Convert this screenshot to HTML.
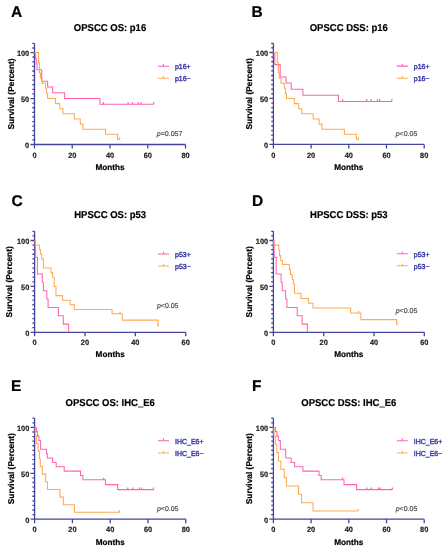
<!DOCTYPE html>
<html><head><meta charset="utf-8"><style>
html,body{margin:0;padding:0;background:#fff;}
svg{display:block;will-change:transform;}
text{font-family:"Liberation Sans",sans-serif;text-rendering:geometricPrecision;}
.sk{stroke-width:0.22px;}
</style></head><body>
<svg width="447" height="550" viewBox="0 0 447 550">
<rect width="447" height="550" fill="#fff"/>
<text x="11.1" y="16.8" font-size="15.5" font-weight="bold" fill="#000" stroke="#000" stroke-width="0.2">A</text>
<text transform="translate(110 30.5) scale(0.95 1)" font-size="10" font-weight="bold" text-anchor="middle" fill="#000" stroke="#000" stroke-width="0.2">OPSCC OS: p16</text>
<path d="M34.5 43.41V148.5M30.5 144.5H185.5M30.5 144.5H34.5M32.3 139.91H34.5M32.3 135.31H34.5M32.3 130.72H34.5M32.3 126.12H34.5M32.3 121.53H34.5M32.3 116.93H34.5M32.3 112.34H34.5M32.3 107.74H34.5M32.3 103.14H34.5M30.5 98.55H34.5M32.3 93.95H34.5M32.3 89.36H34.5M32.3 84.77H34.5M32.3 80.17H34.5M32.3 75.58H34.5M32.3 70.98H34.5M32.3 66.38H34.5M32.3 61.79H34.5M32.3 57.19H34.5M30.5 52.6H34.5M32.3 48H34.5M32.3 43.41H34.5M34.5 144.5V148.5M72.25 144.5V148.5M110 144.5V148.5M147.75 144.5V148.5M185.5 144.5V148.5" fill="none" stroke="#44449e" stroke-width="1.3"/>
<text transform="translate(29.2 147.9) scale(0.96 1)" font-size="7.7" font-weight="bold" text-anchor="end" fill="#222222" stroke="#222222" stroke-width="0.2">0</text>
<text transform="translate(29.2 101.95) scale(0.96 1)" font-size="7.7" font-weight="bold" text-anchor="end" fill="#222222" stroke="#222222" stroke-width="0.2">50</text>
<text transform="translate(29.2 56) scale(0.96 1)" font-size="7.7" font-weight="bold" text-anchor="end" fill="#222222" stroke="#222222" stroke-width="0.2">100</text>
<text transform="translate(34.5 157.6) scale(0.96 1)" font-size="7.7" font-weight="bold" text-anchor="middle" fill="#222222" stroke="#222222" stroke-width="0.2">0</text>
<text transform="translate(72.25 157.6) scale(0.96 1)" font-size="7.7" font-weight="bold" text-anchor="middle" fill="#222222" stroke="#222222" stroke-width="0.2">20</text>
<text transform="translate(110 157.6) scale(0.96 1)" font-size="7.7" font-weight="bold" text-anchor="middle" fill="#222222" stroke="#222222" stroke-width="0.2">40</text>
<text transform="translate(147.75 157.6) scale(0.96 1)" font-size="7.7" font-weight="bold" text-anchor="middle" fill="#222222" stroke="#222222" stroke-width="0.2">60</text>
<text transform="translate(185.5 157.6) scale(0.96 1)" font-size="7.7" font-weight="bold" text-anchor="middle" fill="#222222" stroke="#222222" stroke-width="0.2">80</text>
<text x="110" y="169.7" font-size="8.2" font-weight="bold" text-anchor="middle" fill="#000" stroke="#000" stroke-width="0.2">Months</text>
<text transform="translate(13.5 93.95) rotate(-90)" font-size="8.4" font-weight="bold" text-anchor="middle" fill="#000" stroke="#000" stroke-width="0.2">Survival (Percent)</text>
<path d="M157.9 66.3H168.9M163.4 66.3V64" stroke="#ff63b1" stroke-width="1.1"/>
<text transform="translate(174.9 69.1) scale(0.97 1)" font-size="7.2" fill="#3a3aa6" stroke="#3a3aa6" stroke-width="0.4">p16+</text>
<path d="M157.9 78.3H168.9M163.4 78.3V76" stroke="#ffab52" stroke-width="1.1"/>
<text transform="translate(174.9 81.1) scale(0.97 1)" font-size="7.2" fill="#3a3aa6" stroke="#3a3aa6" stroke-width="0.4">p16−</text>
<text x="156.8" y="135.6" font-size="7" fill="#505050" stroke="#505050" stroke-width="0.2"><tspan font-style="italic">p</tspan>=0.057</text>
<path d="M34.5 52.6H35.5V58.25H36.3V64H37.1V69.75H41.7V81.25H47.6V87H52.6V92.75H64.6V98.5H99.9V104.25H153.6" fill="none" stroke="#ff63b1" stroke-width="1.05"/><path d="M103.5 104.25V102.15" stroke="#ff63b1" stroke-width="1.3"/><path d="M128.1 104.25V102.15" stroke="#ff63b1" stroke-width="1.3"/><path d="M132.5 104.25V102.15" stroke="#ff63b1" stroke-width="1.3"/><path d="M138.3 104.25V102.15" stroke="#ff63b1" stroke-width="1.3"/><path d="M141 104.25V102.15" stroke="#ff63b1" stroke-width="1.3"/><path d="M153.6 104.25V102.15" stroke="#ff63b1" stroke-width="1.3"/>
<path d="M34.5 52.6H38.5V62.7H39.5V72.9H40.5V78.1H42.1V83.2H45.4V88.3H46.5V93.4H47.6V98.5H55.5V103.6H59.8V108.7H62.9V113.8H74.3V118.9H80.3V124.1H83V129.2H105.5V134.3H117.6V139.4H119.6" fill="none" stroke="#ffab52" stroke-width="1.05"/><path d="M119.6 139.4V137.3" stroke="#ffab52" stroke-width="1.3"/>
<text x="251.4" y="16.8" font-size="15.5" font-weight="bold" fill="#000" stroke="#000" stroke-width="0.2">B</text>
<text transform="translate(348.8 30.6) scale(0.95 1)" font-size="10" font-weight="bold" text-anchor="middle" fill="#000" stroke="#000" stroke-width="0.2">OPSCC DSS: p16</text>
<path d="M273.4 43.31V148.4M269.4 144.4H424.2M269.4 144.4H273.4M271.2 139.81H273.4M271.2 135.21H273.4M271.2 130.62H273.4M271.2 126.02H273.4M271.2 121.43H273.4M271.2 116.83H273.4M271.2 112.24H273.4M271.2 107.64H273.4M271.2 103.05H273.4M269.4 98.45H273.4M271.2 93.86H273.4M271.2 89.26H273.4M271.2 84.67H273.4M271.2 80.07H273.4M271.2 75.48H273.4M271.2 70.88H273.4M271.2 66.28H273.4M271.2 61.69H273.4M271.2 57.09H273.4M269.4 52.5H273.4M271.2 47.91H273.4M271.2 43.31H273.4M273.4 144.4V148.4M311.1 144.4V148.4M348.8 144.4V148.4M386.5 144.4V148.4M424.2 144.4V148.4" fill="none" stroke="#44449e" stroke-width="1.3"/>
<text transform="translate(268.1 147.8) scale(0.96 1)" font-size="7.7" font-weight="bold" text-anchor="end" fill="#222222" stroke="#222222" stroke-width="0.2">0</text>
<text transform="translate(268.1 101.85) scale(0.96 1)" font-size="7.7" font-weight="bold" text-anchor="end" fill="#222222" stroke="#222222" stroke-width="0.2">50</text>
<text transform="translate(268.1 55.9) scale(0.96 1)" font-size="7.7" font-weight="bold" text-anchor="end" fill="#222222" stroke="#222222" stroke-width="0.2">100</text>
<text transform="translate(273.4 157.5) scale(0.96 1)" font-size="7.7" font-weight="bold" text-anchor="middle" fill="#222222" stroke="#222222" stroke-width="0.2">0</text>
<text transform="translate(311.1 157.5) scale(0.96 1)" font-size="7.7" font-weight="bold" text-anchor="middle" fill="#222222" stroke="#222222" stroke-width="0.2">20</text>
<text transform="translate(348.8 157.5) scale(0.96 1)" font-size="7.7" font-weight="bold" text-anchor="middle" fill="#222222" stroke="#222222" stroke-width="0.2">40</text>
<text transform="translate(386.5 157.5) scale(0.96 1)" font-size="7.7" font-weight="bold" text-anchor="middle" fill="#222222" stroke="#222222" stroke-width="0.2">60</text>
<text transform="translate(424.2 157.5) scale(0.96 1)" font-size="7.7" font-weight="bold" text-anchor="middle" fill="#222222" stroke="#222222" stroke-width="0.2">80</text>
<text x="348.8" y="169.7" font-size="8.2" font-weight="bold" text-anchor="middle" fill="#000" stroke="#000" stroke-width="0.2">Months</text>
<text transform="translate(251.5 93.86) rotate(-90)" font-size="8.4" font-weight="bold" text-anchor="middle" fill="#000" stroke="#000" stroke-width="0.2">Survival (Percent)</text>
<path d="M396.8 66.1H407.8M402.3 66.1V63.8" stroke="#ff63b1" stroke-width="1.1"/>
<text transform="translate(413.8 68.9) scale(0.97 1)" font-size="7.2" fill="#3a3aa6" stroke="#3a3aa6" stroke-width="0.4">p16+</text>
<path d="M396.8 78.2H407.8M402.3 78.2V75.9" stroke="#ffab52" stroke-width="1.1"/>
<text transform="translate(413.8 81) scale(0.97 1)" font-size="7.2" fill="#3a3aa6" stroke="#3a3aa6" stroke-width="0.4">p16−</text>
<text x="395.7" y="135.7" font-size="7" fill="#505050" stroke="#505050" stroke-width="0.2"><tspan font-style="italic">p</tspan>&lt;0.05</text>
<path d="M273.4 52.5H274.9V58.5H274.9V64.6H280.2V70.7H280.2V77H286V83H291.2V89.2H302.9V95.2H338.5V101.4H391.8" fill="none" stroke="#ff63b1" stroke-width="1.05"/><path d="M342.6 101.4V99.3" stroke="#ff63b1" stroke-width="1.3"/><path d="M366.7 101.4V99.3" stroke="#ff63b1" stroke-width="1.3"/><path d="M371.2 101.4V99.3" stroke="#ff63b1" stroke-width="1.3"/><path d="M377.4 101.4V99.3" stroke="#ff63b1" stroke-width="1.3"/><path d="M379.7 101.4V99.3" stroke="#ff63b1" stroke-width="1.3"/><path d="M391.8 101.4V99.3" stroke="#ff63b1" stroke-width="1.3"/>
<path d="M273.4 52.5H277.4V62.7H278.4V72.9H279.4V78.1H281V83.2H284.3V88.3H285.4V93.4H286.5V98.5H294.4V103.6H298.7V108.7H301.8V113.8H313.2V118.9H319.2V124.1H321.9V129.2H344.4V134.3H356.5V139.4H358.5" fill="none" stroke="#ffab52" stroke-width="1.05"/><path d="M358.5 139.4V137.3" stroke="#ffab52" stroke-width="1.3"/>
<text x="11.4" y="205.5" font-size="15.5" font-weight="bold" fill="#000" stroke="#000" stroke-width="0.2">C</text>
<text transform="translate(110.15 218.3) scale(0.95 1)" font-size="10" font-weight="bold" text-anchor="middle" fill="#000" stroke="#000" stroke-width="0.2">HPSCC OS: p53</text>
<path d="M34.6 231.32V336.3M30.6 332.3H185.7M30.6 332.3H34.6M32.4 327.71H34.6M32.4 323.12H34.6M32.4 318.53H34.6M32.4 313.94H34.6M32.4 309.35H34.6M32.4 304.76H34.6M32.4 300.17H34.6M32.4 295.58H34.6M32.4 290.99H34.6M30.6 286.4H34.6M32.4 281.81H34.6M32.4 277.22H34.6M32.4 272.63H34.6M32.4 268.04H34.6M32.4 263.45H34.6M32.4 258.86H34.6M32.4 254.27H34.6M32.4 249.68H34.6M32.4 245.09H34.6M30.6 240.5H34.6M32.4 235.91H34.6M32.4 231.32H34.6M34.6 332.3V336.3M84.97 332.3V336.3M135.33 332.3V336.3M185.7 332.3V336.3" fill="none" stroke="#44449e" stroke-width="1.3"/>
<text transform="translate(29.3 335.7) scale(0.96 1)" font-size="7.7" font-weight="bold" text-anchor="end" fill="#222222" stroke="#222222" stroke-width="0.2">0</text>
<text transform="translate(29.3 289.8) scale(0.96 1)" font-size="7.7" font-weight="bold" text-anchor="end" fill="#222222" stroke="#222222" stroke-width="0.2">50</text>
<text transform="translate(29.3 243.9) scale(0.96 1)" font-size="7.7" font-weight="bold" text-anchor="end" fill="#222222" stroke="#222222" stroke-width="0.2">100</text>
<text transform="translate(34.6 345.4) scale(0.96 1)" font-size="7.7" font-weight="bold" text-anchor="middle" fill="#222222" stroke="#222222" stroke-width="0.2">0</text>
<text transform="translate(84.97 345.4) scale(0.96 1)" font-size="7.7" font-weight="bold" text-anchor="middle" fill="#222222" stroke="#222222" stroke-width="0.2">20</text>
<text transform="translate(135.33 345.4) scale(0.96 1)" font-size="7.7" font-weight="bold" text-anchor="middle" fill="#222222" stroke="#222222" stroke-width="0.2">40</text>
<text transform="translate(185.7 345.4) scale(0.96 1)" font-size="7.7" font-weight="bold" text-anchor="middle" fill="#222222" stroke="#222222" stroke-width="0.2">60</text>
<text x="110.15" y="356.9" font-size="8.2" font-weight="bold" text-anchor="middle" fill="#000" stroke="#000" stroke-width="0.2">Months</text>
<text transform="translate(12.3 281.81) rotate(-90)" font-size="8.4" font-weight="bold" text-anchor="middle" fill="#000" stroke="#000" stroke-width="0.2">Survival (Percent)</text>
<path d="M158 254H169M163.5 254V251.7" stroke="#ff63b1" stroke-width="1.1"/>
<text transform="translate(175 256.8) scale(0.97 1)" font-size="7.2" fill="#3a3aa6" stroke="#3a3aa6" stroke-width="0.4">p53+</text>
<path d="M158 266H169M163.5 266V263.7" stroke="#ffab52" stroke-width="1.1"/>
<text transform="translate(175 268.8) scale(0.97 1)" font-size="7.2" fill="#3a3aa6" stroke="#3a3aa6" stroke-width="0.4">p53−</text>
<text x="156.9" y="308.4" font-size="7" fill="#505050" stroke="#505050" stroke-width="0.2"><tspan font-style="italic">p</tspan>&lt;0.05</text>
<path d="M34.6 240.5H35.3V257.2H37.4V273.9H42.3V282.3H43.4V290.7H46.8V299H48.1V307.4H58.4V315.7H63.3V324.1H68.6V332.3H68.6" fill="none" stroke="#ff63b1" stroke-width="1.05"/>
<path d="M34.6 240.5H35.3V245H39.5V249.6H40.6V254.2H41.7V258.8H43.4V268H51V272.6H52.6V277.2H54.2V286.4H56V295.6H62.5V300.2H70.2V304.8H74.3V309.4H112V313.8H122.2V320.1H158.1V326.3H158.3" fill="none" stroke="#ffab52" stroke-width="1.05"/><path d="M120.1 313.8V311.7" stroke="#ffab52" stroke-width="1.3"/><path d="M158.3 326.3V324.2" stroke="#ffab52" stroke-width="1.3"/>
<text x="252.1" y="205.5" font-size="15.5" font-weight="bold" fill="#000" stroke="#000" stroke-width="0.2">D</text>
<text transform="translate(348.85 218.3) scale(0.95 1)" font-size="10" font-weight="bold" text-anchor="middle" fill="#000" stroke="#000" stroke-width="0.2">HPSCC DSS: p53</text>
<path d="M273.4 231.32V336.3M269.4 332.3H424.3M269.4 332.3H273.4M271.2 327.71H273.4M271.2 323.12H273.4M271.2 318.53H273.4M271.2 313.94H273.4M271.2 309.35H273.4M271.2 304.76H273.4M271.2 300.17H273.4M271.2 295.58H273.4M271.2 290.99H273.4M269.4 286.4H273.4M271.2 281.81H273.4M271.2 277.22H273.4M271.2 272.63H273.4M271.2 268.04H273.4M271.2 263.45H273.4M271.2 258.86H273.4M271.2 254.27H273.4M271.2 249.68H273.4M271.2 245.09H273.4M269.4 240.5H273.4M271.2 235.91H273.4M271.2 231.32H273.4M273.4 332.3V336.3M323.7 332.3V336.3M374 332.3V336.3M424.3 332.3V336.3" fill="none" stroke="#44449e" stroke-width="1.3"/>
<text transform="translate(268.1 335.7) scale(0.96 1)" font-size="7.7" font-weight="bold" text-anchor="end" fill="#222222" stroke="#222222" stroke-width="0.2">0</text>
<text transform="translate(268.1 289.8) scale(0.96 1)" font-size="7.7" font-weight="bold" text-anchor="end" fill="#222222" stroke="#222222" stroke-width="0.2">50</text>
<text transform="translate(268.1 243.9) scale(0.96 1)" font-size="7.7" font-weight="bold" text-anchor="end" fill="#222222" stroke="#222222" stroke-width="0.2">100</text>
<text transform="translate(273.4 345.4) scale(0.96 1)" font-size="7.7" font-weight="bold" text-anchor="middle" fill="#222222" stroke="#222222" stroke-width="0.2">0</text>
<text transform="translate(323.7 345.4) scale(0.96 1)" font-size="7.7" font-weight="bold" text-anchor="middle" fill="#222222" stroke="#222222" stroke-width="0.2">20</text>
<text transform="translate(374 345.4) scale(0.96 1)" font-size="7.7" font-weight="bold" text-anchor="middle" fill="#222222" stroke="#222222" stroke-width="0.2">40</text>
<text transform="translate(424.3 345.4) scale(0.96 1)" font-size="7.7" font-weight="bold" text-anchor="middle" fill="#222222" stroke="#222222" stroke-width="0.2">60</text>
<text x="348.85" y="356.9" font-size="8.2" font-weight="bold" text-anchor="middle" fill="#000" stroke="#000" stroke-width="0.2">Months</text>
<text transform="translate(251.5 281.81) rotate(-90)" font-size="8.4" font-weight="bold" text-anchor="middle" fill="#000" stroke="#000" stroke-width="0.2">Survival (Percent)</text>
<path d="M396.8 253.8H407.8M402.3 253.8V251.5" stroke="#ff63b1" stroke-width="1.1"/>
<text transform="translate(413.8 256.6) scale(0.97 1)" font-size="7.2" fill="#3a3aa6" stroke="#3a3aa6" stroke-width="0.4">p53+</text>
<path d="M396.8 265.7H407.8M402.3 265.7V263.4" stroke="#ffab52" stroke-width="1.1"/>
<text transform="translate(413.8 268.5) scale(0.97 1)" font-size="7.2" fill="#3a3aa6" stroke="#3a3aa6" stroke-width="0.4">p53−</text>
<text x="395.7" y="312.9" font-size="7" fill="#505050" stroke="#505050" stroke-width="0.2"><tspan font-style="italic">p</tspan>&lt;0.05</text>
<path d="M273.4 240.5H274.1V257.2H276.2V273.9H281.1V282.3H282.2V290.7H285.6V299H286.9V307.4H297.2V315.7H302.1V324.1H307.4V332.3H307.4" fill="none" stroke="#ff63b1" stroke-width="1.05"/>
<path d="M273.4 240.5H274V245.1H278.8V250H279.6V255.4H280.7V260.4H282.4V264.4H289.4V269.6H290.5V274.5H292.2V279.4H293.3V283.8H294.5V293.3H300.9V298.5H308.5V303.2H313V307.9H350.6V312.9H360.9V319.6H396.7V324.7H396.9" fill="none" stroke="#ffab52" stroke-width="1.05"/><path d="M358.5 312.9V310.8" stroke="#ffab52" stroke-width="1.3"/><path d="M396.9 324.7V322.6" stroke="#ffab52" stroke-width="1.3"/>
<text x="11" y="390.6" font-size="15.5" font-weight="bold" fill="#000" stroke="#000" stroke-width="0.2">E</text>
<text transform="translate(110.2 405.6) scale(0.95 1)" font-size="10" font-weight="bold" text-anchor="middle" fill="#000" stroke="#000" stroke-width="0.2">OPSCC OS: IHC_E6</text>
<path d="M34.6 418.22V523.2M30.6 519.2H185.8M30.6 519.2H34.6M32.4 514.61H34.6M32.4 510.02H34.6M32.4 505.43H34.6M32.4 500.84H34.6M32.4 496.25H34.6M32.4 491.66H34.6M32.4 487.07H34.6M32.4 482.48H34.6M32.4 477.89H34.6M30.6 473.3H34.6M32.4 468.71H34.6M32.4 464.12H34.6M32.4 459.53H34.6M32.4 454.94H34.6M32.4 450.35H34.6M32.4 445.76H34.6M32.4 441.17H34.6M32.4 436.58H34.6M32.4 431.99H34.6M30.6 427.4H34.6M32.4 422.81H34.6M32.4 418.22H34.6M34.6 519.2V523.2M72.4 519.2V523.2M110.2 519.2V523.2M148 519.2V523.2M185.8 519.2V523.2" fill="none" stroke="#44449e" stroke-width="1.3"/>
<text transform="translate(29.3 522.6) scale(0.96 1)" font-size="7.7" font-weight="bold" text-anchor="end" fill="#222222" stroke="#222222" stroke-width="0.2">0</text>
<text transform="translate(29.3 476.7) scale(0.96 1)" font-size="7.7" font-weight="bold" text-anchor="end" fill="#222222" stroke="#222222" stroke-width="0.2">50</text>
<text transform="translate(29.3 430.8) scale(0.96 1)" font-size="7.7" font-weight="bold" text-anchor="end" fill="#222222" stroke="#222222" stroke-width="0.2">100</text>
<text transform="translate(34.6 532.3) scale(0.96 1)" font-size="7.7" font-weight="bold" text-anchor="middle" fill="#222222" stroke="#222222" stroke-width="0.2">0</text>
<text transform="translate(72.4 532.3) scale(0.96 1)" font-size="7.7" font-weight="bold" text-anchor="middle" fill="#222222" stroke="#222222" stroke-width="0.2">20</text>
<text transform="translate(110.2 532.3) scale(0.96 1)" font-size="7.7" font-weight="bold" text-anchor="middle" fill="#222222" stroke="#222222" stroke-width="0.2">40</text>
<text transform="translate(148 532.3) scale(0.96 1)" font-size="7.7" font-weight="bold" text-anchor="middle" fill="#222222" stroke="#222222" stroke-width="0.2">60</text>
<text transform="translate(185.8 532.3) scale(0.96 1)" font-size="7.7" font-weight="bold" text-anchor="middle" fill="#222222" stroke="#222222" stroke-width="0.2">80</text>
<text x="110.2" y="544.5" font-size="8.2" font-weight="bold" text-anchor="middle" fill="#000" stroke="#000" stroke-width="0.2">Months</text>
<text transform="translate(13.5 468.71) rotate(-90)" font-size="8.4" font-weight="bold" text-anchor="middle" fill="#000" stroke="#000" stroke-width="0.2">Survival (Percent)</text>
<path d="M158 440.7H169M163.5 440.7V438.4" stroke="#ff63b1" stroke-width="1.1"/>
<text transform="translate(175 443.5) scale(0.97 1)" font-size="7.2" fill="#3a3aa6" stroke="#3a3aa6" stroke-width="0.4">IHC_E6+</text>
<path d="M158 453H169M163.5 453V450.7" stroke="#ffab52" stroke-width="1.1"/>
<text transform="translate(175 455.8) scale(0.97 1)" font-size="7.2" fill="#3a3aa6" stroke="#3a3aa6" stroke-width="0.4">IHC_E6−</text>
<text x="156.9" y="510.9" font-size="7" fill="#505050" stroke="#505050" stroke-width="0.2"><tspan font-style="italic">p</tspan>&lt;0.05</text>
<path d="M34.6 427.4H36.5V431.6H37.5V436.1H38.9V440.4H40.6V449.3H46.4V453.6H47.3V458H52.6V462.4H56.2V466.7H64.2V471.1H80.5V475.5H82.9V479.8H105.4V484.6H117.7V489.6H153.5" fill="none" stroke="#ff63b1" stroke-width="1.05"/><path d="M103.6 479.8V477.7" stroke="#ff63b1" stroke-width="1.3"/><path d="M127.8 489.6V487.5" stroke="#ff63b1" stroke-width="1.3"/><path d="M132.7 489.6V487.5" stroke="#ff63b1" stroke-width="1.3"/><path d="M139.4 489.6V487.5" stroke="#ff63b1" stroke-width="1.3"/><path d="M141.7 489.6V487.5" stroke="#ff63b1" stroke-width="1.3"/><path d="M153.5 489.6V487.5" stroke="#ff63b1" stroke-width="1.3"/>
<path d="M34.6 427.4H35.3V435.8H36.4V443.5H38.1V451.2H39.4V458.8H40.3V466.5H42.3V474.1H45.7V481.8H47.4V489.4H60V497.1H63.3V504.7H74.5V512.3H119.3" fill="none" stroke="#ffab52" stroke-width="1.05"/><path d="M119.3 512.3V510.2" stroke="#ffab52" stroke-width="1.3"/>
<text x="252.1" y="390.5" font-size="15.5" font-weight="bold" fill="#000" stroke="#000" stroke-width="0.2">F</text>
<text transform="translate(348.8 405.6) scale(0.95 1)" font-size="10" font-weight="bold" text-anchor="middle" fill="#000" stroke="#000" stroke-width="0.2">OPSCC DSS: IHC_E6</text>
<path d="M273.4 418.22V523.2M269.4 519.2H424.2M269.4 519.2H273.4M271.2 514.61H273.4M271.2 510.02H273.4M271.2 505.43H273.4M271.2 500.84H273.4M271.2 496.25H273.4M271.2 491.66H273.4M271.2 487.07H273.4M271.2 482.48H273.4M271.2 477.89H273.4M269.4 473.3H273.4M271.2 468.71H273.4M271.2 464.12H273.4M271.2 459.53H273.4M271.2 454.94H273.4M271.2 450.35H273.4M271.2 445.76H273.4M271.2 441.17H273.4M271.2 436.58H273.4M271.2 431.99H273.4M269.4 427.4H273.4M271.2 422.81H273.4M271.2 418.22H273.4M273.4 519.2V523.2M311.1 519.2V523.2M348.8 519.2V523.2M386.5 519.2V523.2M424.2 519.2V523.2" fill="none" stroke="#44449e" stroke-width="1.3"/>
<text transform="translate(268.1 522.6) scale(0.96 1)" font-size="7.7" font-weight="bold" text-anchor="end" fill="#222222" stroke="#222222" stroke-width="0.2">0</text>
<text transform="translate(268.1 476.7) scale(0.96 1)" font-size="7.7" font-weight="bold" text-anchor="end" fill="#222222" stroke="#222222" stroke-width="0.2">50</text>
<text transform="translate(268.1 430.8) scale(0.96 1)" font-size="7.7" font-weight="bold" text-anchor="end" fill="#222222" stroke="#222222" stroke-width="0.2">100</text>
<text transform="translate(273.4 532.3) scale(0.96 1)" font-size="7.7" font-weight="bold" text-anchor="middle" fill="#222222" stroke="#222222" stroke-width="0.2">0</text>
<text transform="translate(311.1 532.3) scale(0.96 1)" font-size="7.7" font-weight="bold" text-anchor="middle" fill="#222222" stroke="#222222" stroke-width="0.2">20</text>
<text transform="translate(348.8 532.3) scale(0.96 1)" font-size="7.7" font-weight="bold" text-anchor="middle" fill="#222222" stroke="#222222" stroke-width="0.2">40</text>
<text transform="translate(386.5 532.3) scale(0.96 1)" font-size="7.7" font-weight="bold" text-anchor="middle" fill="#222222" stroke="#222222" stroke-width="0.2">60</text>
<text transform="translate(424.2 532.3) scale(0.96 1)" font-size="7.7" font-weight="bold" text-anchor="middle" fill="#222222" stroke="#222222" stroke-width="0.2">80</text>
<text x="348.8" y="544.5" font-size="8.2" font-weight="bold" text-anchor="middle" fill="#000" stroke="#000" stroke-width="0.2">Months</text>
<text transform="translate(251.5 468.71) rotate(-90)" font-size="8.4" font-weight="bold" text-anchor="middle" fill="#000" stroke="#000" stroke-width="0.2">Survival (Percent)</text>
<path d="M396.8 440.7H407.8M402.3 440.7V438.4" stroke="#ff63b1" stroke-width="1.1"/>
<text transform="translate(413.8 443.5) scale(0.97 1)" font-size="7.2" fill="#3a3aa6" stroke="#3a3aa6" stroke-width="0.4">IHC_E6+</text>
<path d="M396.8 453H407.8M402.3 453V450.7" stroke="#ffab52" stroke-width="1.1"/>
<text transform="translate(413.8 455.8) scale(0.97 1)" font-size="7.2" fill="#3a3aa6" stroke="#3a3aa6" stroke-width="0.4">IHC_E6−</text>
<text x="395.7" y="510.9" font-size="7" fill="#505050" stroke="#505050" stroke-width="0.2"><tspan font-style="italic">p</tspan>&lt;0.05</text>
<path d="M273.4 427.4H275.4V431.6H276.9V436.1H278.4V440.4H280.3V449.3H285.7V458H291.1V462.4H294.6V466.7H302.9V471.1H319V475.5H321.2V479.8H344V484.6H356.6V489.6H392.3" fill="none" stroke="#ff63b1" stroke-width="1.05"/><path d="M342.5 479.8V477.7" stroke="#ff63b1" stroke-width="1.3"/><path d="M366.8 489.6V487.5" stroke="#ff63b1" stroke-width="1.3"/><path d="M371.3 489.6V487.5" stroke="#ff63b1" stroke-width="1.3"/><path d="M378.5 489.6V487.5" stroke="#ff63b1" stroke-width="1.3"/><path d="M380.2 489.6V487.5" stroke="#ff63b1" stroke-width="1.3"/><path d="M392.3 489.6V487.5" stroke="#ff63b1" stroke-width="1.3"/>
<path d="M273.4 427.4H274V435.9H275.4V444.2H276.9V452.6H278.4V460.9H280.8V469.3H284.3V477.6H286.4V486H298.5V494.3H301.5V502.7H313V511H358.1" fill="none" stroke="#ffab52" stroke-width="1.05"/><path d="M358.1 511V508.9" stroke="#ffab52" stroke-width="1.3"/>
</svg>
</body></html>
